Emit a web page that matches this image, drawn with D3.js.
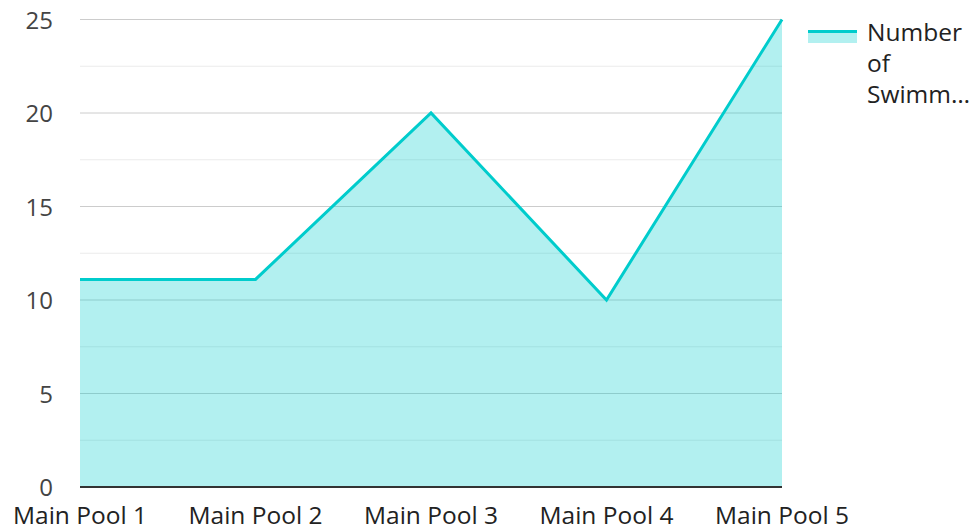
<!DOCTYPE html>
<html><head><meta charset="utf-8">
<script src="https://cdn.jsdelivr.net/npm/d3@7"></script>
<style>body{margin:0;background:#fff;}svg{display:block;font-family:"Open Sans",sans-serif;}</style>
</head><body><svg id="c" width="972" height="528"></svg>
<script>
const categories = ["Main Pool 1","Main Pool 2","Main Pool 3","Main Pool 4","Main Pool 5"];
const swimmers = [11.1, 11.1, 20, 10, 25];
const yTicks = [0,5,10,15,20,25];
const minorTicks = [2.5,7.5,12.5,17.5,22.5];
const seriesName = "Number of Swimmers";
const legendLines = ["Number","of","Swimm…"];

(function(){
const svg = d3.select("#c");
const mLeft = 80, mRight = 782, mTop = 19.5, mBottom = 487;
const x = d3.scalePoint().domain(categories).range([mLeft, mRight]);
const y = d3.scaleLinear().domain([0,25]).range([mBottom, mTop]);

svg.append("g").selectAll("line").data(minorTicks).join("line")
  .attr("x1", mLeft).attr("x2", mRight)
  .attr("y1", d => y(d)).attr("y2", d => y(d))
  .attr("stroke", "#ebebeb").attr("stroke-width", 1);
svg.append("g").selectAll("line").data(yTicks.filter(d=>d>0)).join("line")
  .attr("x1", mLeft).attr("x2", mRight)
  .attr("y1", d => y(d)).attr("y2", d => y(d))
  .attr("stroke", "#cccccc").attr("stroke-width", 1);

const pts = categories.map((c,i)=>({c, v: swimmers[i]}));
svg.append("path").datum(pts)
  .attr("d", d3.area().x(d=>x(d.c)).y0(y(0)).y1(d=>y(d.v)))
  .attr("fill", "#00cccc").attr("fill-opacity", 0.3);
svg.append("path").datum(pts)
  .attr("d", d3.line().x(d=>x(d.c)).y(d=>y(d.v)))
  .attr("fill", "none").attr("stroke", "#00cccc").attr("stroke-width", 3)
  .attr("stroke-linejoin", "miter");

svg.append("line").attr("x1", mLeft).attr("x2", mRight)
  .attr("y1", y(0)).attr("y2", y(0)).attr("stroke", "#333").attr("stroke-width", 2);

svg.append("g").selectAll("text").data(yTicks).join("text")
  .attr("x", 53).attr("y", d => y(d) + 9)
  .attr("text-anchor", "end").attr("font-size", 24).attr("fill", "#444")
  .text(d => d);

svg.append("g").selectAll("text").data(categories).join("text")
  .attr("x", d => x(d)).attr("y", 524)
  .attr("text-anchor", "middle").attr("font-size", 24.5).attr("fill", "#222")
  .text(d => d);

const lg = svg.append("g");
lg.append("rect").attr("x", 808).attr("y", 31).attr("width", 49).attr("height", 12)
  .attr("fill", "#00cccc").attr("fill-opacity", 0.3);
lg.append("line").attr("x1", 808).attr("x2", 857).attr("y1", 31.5).attr("y2", 31.5)
  .attr("stroke", "#00cccc").attr("stroke-width", 3);
lg.append("title").text(seriesName);
lg.selectAll("text").data(legendLines).join("text")
  .attr("x", 867).attr("y", (d,i) => 40.5 + i*31)
  .attr("font-size", 24.5).attr("fill", "#222")
  .text(d => d);
})();
</script></body></html>
